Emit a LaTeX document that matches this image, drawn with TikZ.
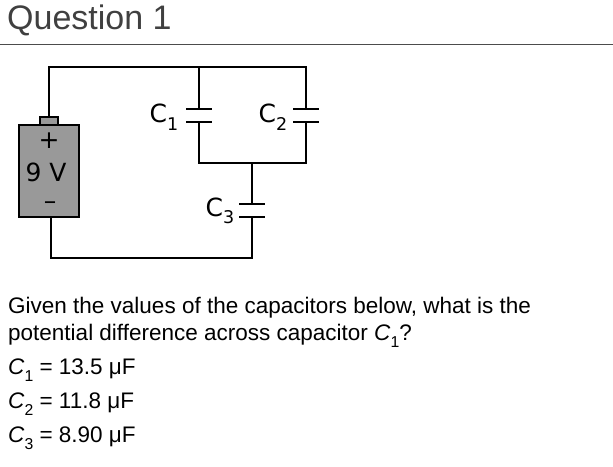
\documentclass[tikz,border=0pt]{standalone}
\usepackage{fontspec}
\setmainfont{Liberation Sans}
\newfontfamily\circfont{DejaVu Sans}
\newcommand{\sbs}[1]{\raisebox{-0.3em}{\fontsize{0.7em}{1em}\selectfont #1}}
\newcommand{\cv}[1]{\textit{C}\sbs{#1}}
\begin{document}
\begin{tikzpicture}[x=1pt,y=-1pt,
  wire/.style={line width=1.3pt},
  lbl/.style={font=\circfont\fontsize{25}{27}\selectfont,inner sep=0pt},
  txt/.style={anchor=west,font=\fontsize{22.5}{24}\selectfont,inner sep=0pt}]
\useasboundingbox (0,0) rectangle (613,466);
\node[anchor=west,inner sep=0pt,font=\fontsize{34}{36}\selectfont,text=black!75] (title) at (7,20) {Question 1};
\draw[line width=0.8pt,black!70] (0,44) -- (613,44);
% battery
\node[draw,fill=black!40,line width=1.2pt,minimum width=18pt,minimum height=8pt,inner sep=0pt] (cap) at (49,121) {};
\node[draw,fill=black!40,line width=1.2pt,minimum width=60pt,minimum height=92pt,inner sep=0pt] (bat) at (49,171) {};
\node[lbl] (plus) at (49,141) {+};
\node[lbl] (nine) at (46,172) {9 V};
\node[lbl] (minus) at (50,206) {–};
\coordinate (tl) at (49,67); \coordinate (t1) at (199,67); \coordinate (tr) at (306,67);
\coordinate (j1) at (199,163); \coordinate (jr) at (306,163); \coordinate (j3) at (252,163);
\coordinate (bl) at (51,258); \coordinate (br) at (252,258);
\draw[wire] (cap.north) -- (tl) -- (tr) -- (306,109);
\draw[wire] (t1) -- (199,109);
\draw[wire] (199,122) -- (j1) -- (jr) -- (306,122);
\draw[wire] (j3) -- (252,204);
\draw[wire] (252,217) -- (br) -- (bl) -- (51,217);
\foreach \x/\a/\b in {199/109/122,306/109/122,252/204/217}{
  \draw[wire] (\x-13,\a) -- (\x+13,\a);
  \draw[wire] (\x-13,\b) -- (\x+13,\b);}
\node[lbl] (c1) at (164,117) {C\sbs{1}};
\node[lbl] (c2) at (273,117) {C\sbs{2}};
\node[lbl] (c3) at (220,211) {C\sbs{3}};
\node[txt] (q1) at (8,308) {Given the values of the capacitors below, what is the};
\node[txt] (q2) at (8,336) {potential difference across capacitor \cv{1}?};
\node[txt] (v1) at (8,370) {\cv{1} = 13.5 μF};
\node[txt] (v2) at (8,404) {\cv{2} = 11.8 μF};
\node[txt] (v3) at (8,438) {\cv{3} = 8.90 μF};
\end{tikzpicture}
\end{document}
